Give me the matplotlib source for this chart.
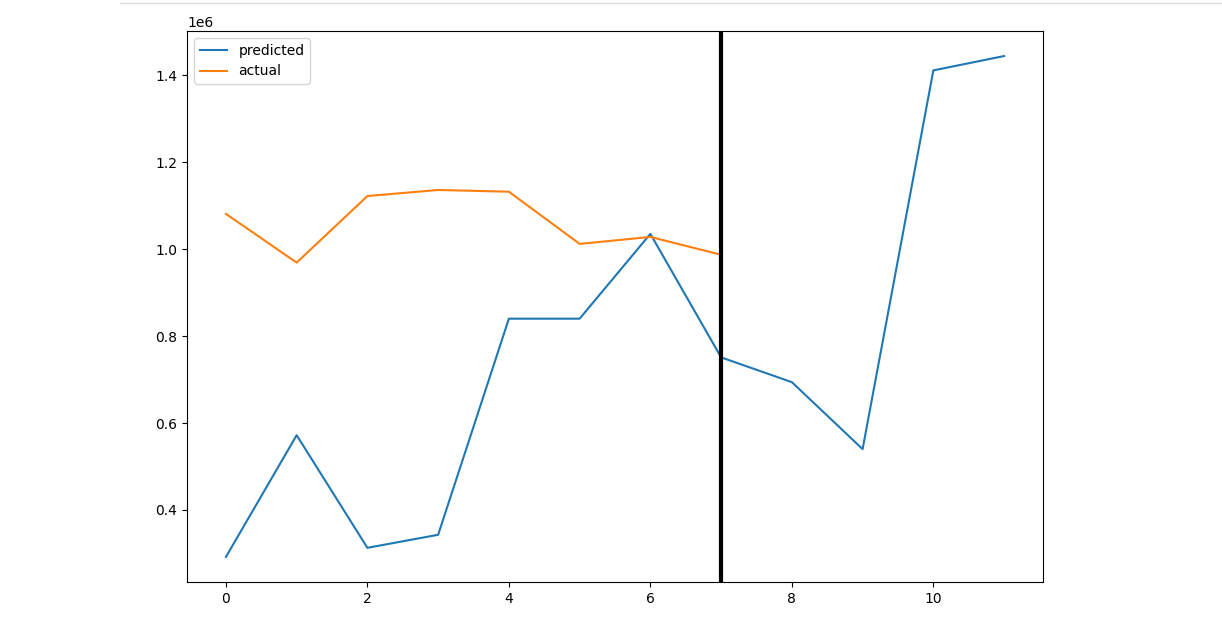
import matplotlib as mpl
mpl.use('Agg')
import matplotlib.pyplot as plt

# values
predicted = [0.292e6, 0.572e6, 0.313e6, 0.343e6, 0.840e6, 0.840e6,
             1.035e6, 0.751e6, 0.694e6, 0.540e6, 1.411e6, 1.444e6]
actual = [1.081e6, 0.969e6, 1.122e6, 1.136e6, 1.132e6, 1.012e6, 1.028e6, 0.987e6]
split = 7

fig = plt.figure(figsize=(12.22, 6.39), dpi=100)
ax = fig.add_axes([187/1222, 1-582/639, (1043-187)/1222, (582-31)/639])
ax.plot(range(len(predicted)), predicted, label='predicted')
ax.plot(range(len(actual)), actual, label='actual')
ax.axvline(split, color='k', lw=3)
ax.legend(loc='upper left')
fig.add_artist(plt.Line2D([120/1222, 1], [0.995, 0.995], color='#dddddd', lw=1))
fig.savefig('out.png')
